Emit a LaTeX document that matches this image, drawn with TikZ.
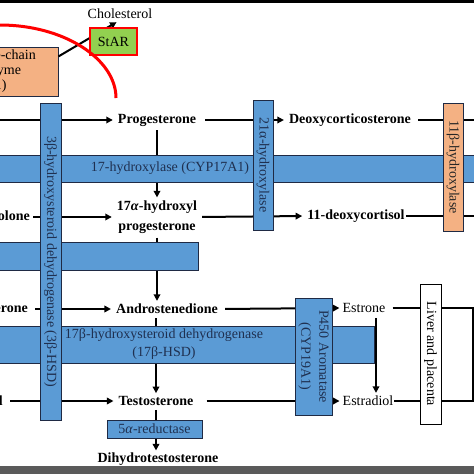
\documentclass[tikz,border=0pt]{standalone}
\usepackage{fontspec}
\setmainfont{Liberation Serif}
\usetikzlibrary{arrows.meta}
\definecolor{enzblue}{HTML}{5B9BD5}
\definecolor{enzorange}{HTML}{F4B183}
\definecolor{stargreen}{HTML}{92D050}
\definecolor{enzline}{HTML}{1F2A44}
\definecolor{enztext}{HTML}{1F3050}
\definecolor{bandgray}{HTML}{5A5A5A}
\tikzset{
  cpd/.style={inner sep=1pt, font=\fontsize{14}{20}\selectfont\bfseries, align=center},
  plain/.style={inner sep=1pt, font=\fontsize{14}{16}\selectfont},
  enzbox/.style={draw=enzline, fill=enzblue, line width=1pt, inner sep=0pt, text=enztext,
    font=\fontsize{14}{18}\selectfont, align=center},
  flow/.style={line width=2pt, -{Triangle[length=6.5pt,width=6.5pt]}, shorten >=4pt},
  link/.style={line width=2pt}
}

\begin{document}
\begin{tikzpicture}[x=1pt, y=-1pt]
\useasboundingbox (0,0) rectangle (474,474);
\clip (0,0) rectangle (474,474);
\fill[black] (0,0) rectangle (474,2.5);
\fill[bandgray] (0,466) rectangle (474,474);

% Cholesterol
\node[plain] (chol) at (120,14) {Cholesterol};
\node[enzbox, fill=enzorange, text=black, minimum width=170pt, minimum height=49pt,
  font=\fontsize{14}{15}\selectfont] (scc) at (-27,71.5)
  {Cholesterol side-chain\\cleavage enzyme\\(CYP11A1)};
\draw[flow] (scc.10) -- (chol.south);
\node[plain, draw=red, fill=stargreen, line width=1.5pt, minimum width=47pt,
  minimum height=27pt] (star) at (113.5,41.5) {StAR};
\draw[red, line width=3pt] (0,25) .. controls (64,25) and (116,59) .. (116,98);

% compounds
\coordinate (pregL) at (-5,120);
\node[cpd] (prog) at (157,120) {Progesterone};
\node[cpd] (doc) at (350,120) {Deoxycorticosterone};
\coordinate (docR) at (480,120);
\node[cpd, anchor=east] (ohpreg) at (31,217) {17\textit{α}-hydroxypregnenolone};
\node[cpd] (ohprog) at (157,217) {17\textit{α}-hydroxyl\\progesterone};
\node[cpd] (deoxyc) at (356,216) {11-deoxycortisol};
\coordinate (deoxycR) at (480,216);
\node[cpd, anchor=east] (dhea) at (29,309) {Dehydroepiandrosterone};
\node[cpd] (andro) at (167,309) {Androstenedione};
\node[plain] (estrone) at (364,308) {Estrone};
\node[cpd, anchor=east] (adiol) at (4,401) {Androstenediol};
\node[cpd] (testo) at (156,401) {Testosterone};
\node[plain] (estradiol) at (368,401) {Estradiol};
\node[cpd] (dht) at (158,459) {Dihydrotestosterone};

% Connectors
\draw[flow] (pregL) -- (prog.west);
\draw[flow, shorten <=8pt] (prog.east) -- (doc.west);
\draw[link, shorten <=6pt] (doc.east) -- (docR);
\draw[flow, shorten <=2pt] (ohpreg.east) -- (ohprog.west);
\draw[flow, shorten <=4pt] (ohprog.east) -- (deoxyc.west);
\draw[link] (deoxyc.east) -- (deoxycR);
\draw[flow, shorten <=6pt] (dhea.east) -- (andro.west);
\draw[flow, shorten <=6pt, shorten >=2pt] (andro.east) -- (estrone.west);
\draw[flow, shorten <=6pt] (adiol.east) -- (testo.west);
\draw[flow, shorten <=12pt, shorten >=2pt] (testo.east) -- (estradiol.west);
\draw[flow, shorten <=3pt, shorten >=2pt] (prog.south) -- (ohprog.north);
\draw[flow, shorten <=3pt, shorten >=2pt] (ohprog.south) -- (ohprog.south |- andro.north);
\draw[flow, shorten <=3pt, shorten >=2pt] (andro.south -| testo) -- (testo.north);
\draw[flow, shorten <=3pt, shorten >=1pt] (testo.south) -- (testo.south |- dht.north);
\draw[flow, shorten <=4pt, shorten >=2pt] ([xshift=12pt]estrone.south)
  -- ([xshift=12pt]estrone.south |- estradiol.north);

% Liver and placenta loop
\coordinate (rcor) at (473,306);
\coordinate (liverout) at (480,354);
\draw[link, shorten <=6pt] (estrone.east) -- (estrone.east -| rcor) -- (rcor |- estradiol.east)
  -- (estradiol.east);
\draw[link] (rcor |- liverout) -- (liverout);

% horizontal enzymes
\node[enzbox, minimum width=620pt, minimum height=27pt] (cyp17) at (170,168.5)
  {17-hydroxylase (CYP17A1)};
\node[enzbox, minimum width=300pt, minimum height=28pt] (lyase) at (48,256) {};
\node[enzbox, minimum width=420pt, minimum height=37pt] (hsd17) at (164,344.5)
  {17β-hydroxysteroid dehydrogenase\\(17β-HSD)};
\node[enzbox, minimum width=95pt, minimum height=18pt] (red5) at (154.5,429)
  {5\textit{α}-reductase};

% vertical enzymes
\node[enzbox, rotate=-90, minimum width=317pt, minimum height=21pt] (hsd3) at (50.5,261.5)
  {3β-hydroxysteroid dehydrogenase (3β-HSD)};
\node[enzbox, rotate=-90, minimum width=130pt, minimum height=20pt] (h21) at (263,165)
  {21α-hydroxylase};
\node[enzbox, fill=enzorange, text=black!85, rotate=-90, minimum width=128pt,
  minimum height=20pt] (h11) at (453,167) {11β-hydroxylase};
\node[enzbox, rotate=-90, minimum width=117pt, minimum height=37pt] (arom) at (313.5,356.5)
  {P450 Aromatase\\(CYP19A1)};
\node[enzbox, fill=white, draw=black, text=black, rotate=-90, minimum width=140pt,
  minimum height=21pt] (liver) at (430.5,354) {Liver and placenta};
\end{tikzpicture}
\end{document}
